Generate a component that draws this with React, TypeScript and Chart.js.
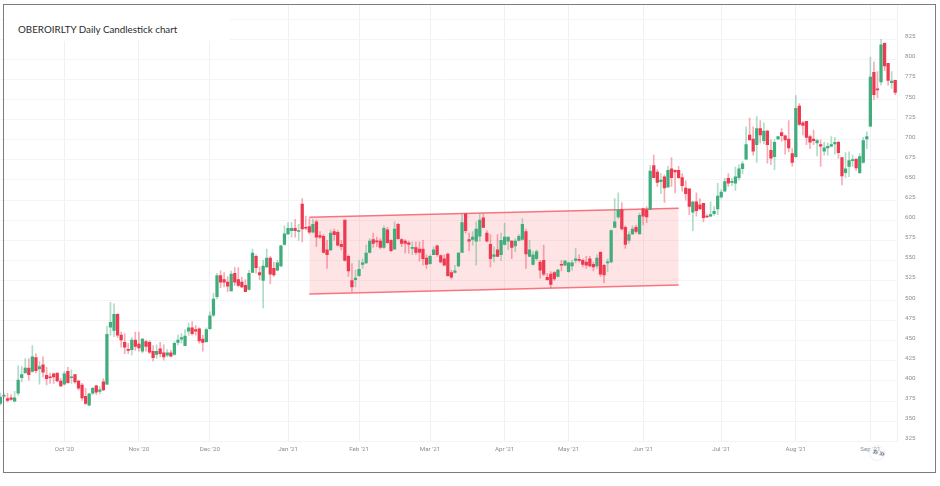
import React, { useEffect, useRef } from "react";
import { Chart, registerables } from "chart.js";

Chart.register(...registerables);

const opens = [
  372,381,378,379,375,385,404,410,416,412,
  429,415,420,407,405,409,410,400,396,412,
  404,408,400,395,381,370,385,394,387,399,
  396,467,463,483,457,448,439,439,451,446,
  437,449,448,437,433,440,435,432,435,433,
  448,452,444,462,466,464,465,452,449,465,
  482,505,531,526,523,512,534,526,523,519,
  514,535,555,535,525,542,553,540,538,543,
  570,583,587,590,586,620,591,592,585,598,
  581,580,563,563,586,585,570,600,555,525,
  526,531,545,547,560,576,574,574,566,588,
  575,564,595,576,574,572,565,566,564,564,
  553,546,557,568,556,552,558,535,535,543,
  560,608,576,576,574,580,603,584,570,555,
  563,557,570,574,574,568,575,576,586,555,
  545,552,548,550,529,533,535,530,545,544,
  536,543,550,551,550,548,552,545,543,560,
  544,547,548,591,604,613,591,575,583,591,
  583,614,613,613,668,660,648,654,641,664,
  662,662,653,640,639,610,623,619,621,605,
  605,608,614,629,636,652,647,646,653,664,
  676,706,701,694,714,699,711,687,679,701,
  709,705,701,683,679,742,721,723,704,701,
  696,694,686,690,692,695,697,678,659,667,
  674,676,659,672,701,717,784,763,772,820,
  795,771,774,
];
const highs = [
  385,385,385,383,387,419,418,428,428,444,
  434,424,430,417,410,410,410,403,412,417,
  414,408,401,397,391,385,392,395,393,403,
  468,498,496,484,461,459,447,454,461,461,
  453,451,450,444,445,448,445,439,438,449,
  457,459,464,472,474,469,466,457,466,486,
  509,534,537,535,530,537,541,541,529,526,
  538,564,557,542,550,564,555,548,550,569,
  593,597,597,601,595,627,605,602,601,600,
  586,582,575,588,589,587,575,600,557,546,
  538,550,552,569,577,584,579,577,593,591,
  576,598,596,577,576,574,573,573,573,575,
  557,557,567,569,557,557,559,538,544,560,
  608,608,584,586,598,608,608,587,582,567,
  582,584,596,579,575,577,582,602,589,575,
  561,563,550,569,534,536,536,539,550,550,
  548,550,565,557,552,555,555,548,557,561,
  545,552,588,627,634,622,593,586,593,594,
  609,615,617,668,681,663,658,656,667,678,
  663,667,658,649,639,623,634,627,621,607,
  623,617,646,638,652,658,652,666,669,673,
  716,727,716,729,724,721,712,700,700,704,
  714,706,724,689,755,745,723,723,706,712,
  701,700,697,696,704,703,698,678,684,685,
  681,676,683,703,710,803,797,785,825,821,
  795,785,774,
];
const lows = [
  370,379,374,376,374,382,399,410,401,411,
  410,396,405,395,397,397,399,393,395,397,
  397,397,389,376,371,369,383,383,384,388,
  395,457,455,454,442,434,434,432,438,437,
  435,437,434,425,428,430,426,430,430,432,
  445,447,444,457,457,457,447,437,448,464,
  480,502,516,517,511,512,519,517,516,511,
  513,535,534,526,491,541,521,530,537,542,
  569,582,579,579,575,573,588,583,584,567,
  577,559,540,562,575,568,563,549,530,511,
  517,530,540,546,559,566,567,564,565,571,
  561,564,576,567,559,559,557,557,549,544,
  540,545,557,555,547,543,530,527,534,542,
  560,584,562,569,544,574,591,573,542,548,
  555,550,569,563,552,561,574,575,540,555,
  544,550,528,531,525,516,525,529,537,543,
  535,538,547,548,542,540,542,537,540,530,
  522,536,547,591,602,588,565,571,582,584,
  583,594,597,613,653,642,633,622,641,642,
  634,652,636,625,607,587,605,613,598,603,
  604,606,607,627,636,642,643,637,650,658,
  675,700,681,672,696,695,671,669,663,700,
  698,682,685,667,678,718,706,694,689,694,
  680,667,681,681,691,682,677,644,653,654,
  667,662,658,671,689,716,750,752,768,786,
  768,764,756,
];
const closes = [
  380,382,376,377,379,401,408,416,408,430,
  413,418,411,403,404,405,400,394,409,398,
  405,399,391,379,372,384,391,386,389,389,
  458,473,483,457,451,442,438,451,443,441,
  452,443,436,429,437,434,430,435,431,447,
  451,454,456,466,459,462,450,448,464,481,
  502,531,523,523,518,533,523,519,517,511,
  534,559,541,532,543,553,533,532,547,568,
  583,590,590,587,587,589,590,585,595,579,
  579,560,557,584,582,569,567,550,537,517,
  528,539,547,559,574,571,573,566,590,572,
  562,589,577,571,571,570,566,560,560,552,
  545,555,563,557,548,544,531,529,537,559,
  597,587,574,579,589,600,591,574,552,557,
  555,575,579,579,566,574,580,595,558,563,
  557,561,538,533,526,520,527,538,544,549,
  547,547,552,550,545,544,543,542,553,533,
  532,548,587,598,613,589,570,582,589,586,
  606,605,604,661,653,647,650,640,662,653,
  660,653,643,633,617,623,612,614,603,604,
  607,611,630,635,648,646,648,654,664,670,
  694,700,686,714,706,711,694,677,697,704,
  705,700,690,672,739,719,718,703,697,699,
  699,692,690,692,694,697,684,655,664,674,
  675,665,679,699,704,778,756,762,818,792,
  774,773,759,
];

const monthIndex = [18, 39, 59, 81, 101, 121, 142, 160, 181, 203, 224, 245];
const monthLabels = ["Oct '20", "Nov '20", "Dec '20", "Jan '21", "Feb '21", "Mar '21", "Apr '21", "May '21", "Jun '21", "Jul '21", "Aug '21", "Sep '21"];

const channelIndex = [87, 191];
const channelUpper = [603.6, 614.8];
const channelLower = [508.2, 519.4];

const titleText = "OBEROIRLTY Daily Candlestick chart";
const tickFont = { family: "Roboto", size: 6.2 };
const tickColor = "#8a8e95";

const UP = "#41ad7c";
const DOWN = "#ee3a50";
const UP_WICK = "rgba(65,173,124,0.42)";
const DOWN_WICK = "rgba(238,58,80,0.42)";

export default function App() {
  const ref = useRef<HTMLCanvasElement | null>(null);
  useEffect(() => {
    const labels = opens.map((_, i) => i);
    const isUp = (i: number) => closes[i] >= opens[i];
    const chart = new Chart(ref.current as HTMLCanvasElement, {
      type: "bar",
      data: {
        labels,
        datasets: [
          {
            type: "line",
            data: channelIndex.map((x, i) => ({ x, y: channelUpper[i] })),
            borderColor: "rgba(246,110,120,0.95)",
            borderWidth: 1.4,
            pointRadius: 0,
            backgroundColor: "rgba(253,120,130,0.2)",
            fill: "+1",
            order: 10,
          },
          {
            type: "line",
            data: channelIndex.map((x, i) => ({ x, y: channelLower[i] })),
            borderColor: "rgba(246,110,120,0.95)",
            borderWidth: 1.4,
            pointRadius: 0,
            fill: false,
            order: 10,
          },
          {
            data: lows.map((l, i) => [l, highs[i]]),
            backgroundColor: labels.map((i) => (isUp(i) ? UP_WICK : DOWN_WICK)),
            barThickness: 1,
            grouped: false,
            order: 5,
          },
          {
            data: opens.map((o, i) => [o, closes[i]]),
            backgroundColor: labels.map((i) => (isUp(i) ? UP : DOWN)),
            barThickness: 2.6,
            minBarLength: 1,
            grouped: false,
            order: 1,
          },
        ],
      } as any,
      options: {
        responsive: false,
        animation: false,
        devicePixelRatio: 1,
        layout: { padding: { left: 2.63, top: 5, right: 0, bottom: 0 } },
        plugins: { legend: { display: false }, tooltip: { enabled: false }, title: { display: false } },
        scales: {
          x: {
            type: "category",
            offset: true,
            grid: { offset: false, color: "#edf0f5", lineWidth: 1, drawTicks: false },
            border: { display: false },
            afterBuildTicks: (s: any) => {
              s.ticks = monthIndex.map((value) => ({ value }));
            },
            afterFit: (s: any) => {
              s.height = 44.7;
              s.paddingLeft = 0;
              s.paddingRight = 0;
            },
            ticks: {
              autoSkip: false,
              maxRotation: 0,
              padding: 4,
              font: tickFont,
              color: tickColor,
              callback: (v: any) => monthLabels[monthIndex.indexOf(Number(v))] ?? "",
            },
          },
          y: {
            type: "linear",
            position: "right",
            min: 325,
            max: 867.66,
            grid: { color: "#f3f4f6", lineWidth: 1, drawTicks: false },
            border: { display: true, color: "#eef0f3" },
            afterFit: (s: any) => {
              s.width = 43;
              s.paddingTop = 0;
              s.paddingBottom = 0;
            },
            ticks: {
              stepSize: 25,
              autoSkip: false,
              includeBounds: false,
              padding: 8,
              labelOffset: -2.6,
              font: tickFont,
              color: tickColor,
              callback: (v: any) => (Number(v) > 825 ? "" : String(v)),
            },
          },
        },
      } as any,
    });
    return () => chart.destroy();
  }, []);

  return (
    <div style={{ position: "absolute", left: 0, top: 0, width: 940, height: 486, overflow: "hidden", background: "#fff" }}>
      <canvas ref={ref} width={944} height={486} style={{ position: "absolute", left: -4, top: 0, display: "block" }} />
      <div style={{ position: "absolute", left: 4, top: 5, width: 226, height: 36, background: "#fff" }} />
      <div style={{ position: "absolute", left: 18, top: 22, fontFamily: "Lato", fontSize: 9.8, lineHeight: "14px", color: "#2b2b2b", whiteSpace: "nowrap" }}>
        {titleText}
      </div>
      <div style={{ position: "absolute", left: 3, top: 4, width: 933, height: 469, border: "1.5px solid #7c7c7c", boxSizing: "border-box", pointerEvents: "none" }} />
      <div style={{ position: "absolute", left: 869, top: 445, width: 16, height: 16, borderRadius: "50%", border: "1px solid #eceef1", boxSizing: "border-box" }} />
      <div style={{ position: "absolute", left: 872, top: 446, fontFamily: "DejaVu Sans", fontSize: 11, lineHeight: "14px", color: "#44546e", transform: "rotate(15deg)" }}>
        »»
      </div>
    </div>
  );
}
